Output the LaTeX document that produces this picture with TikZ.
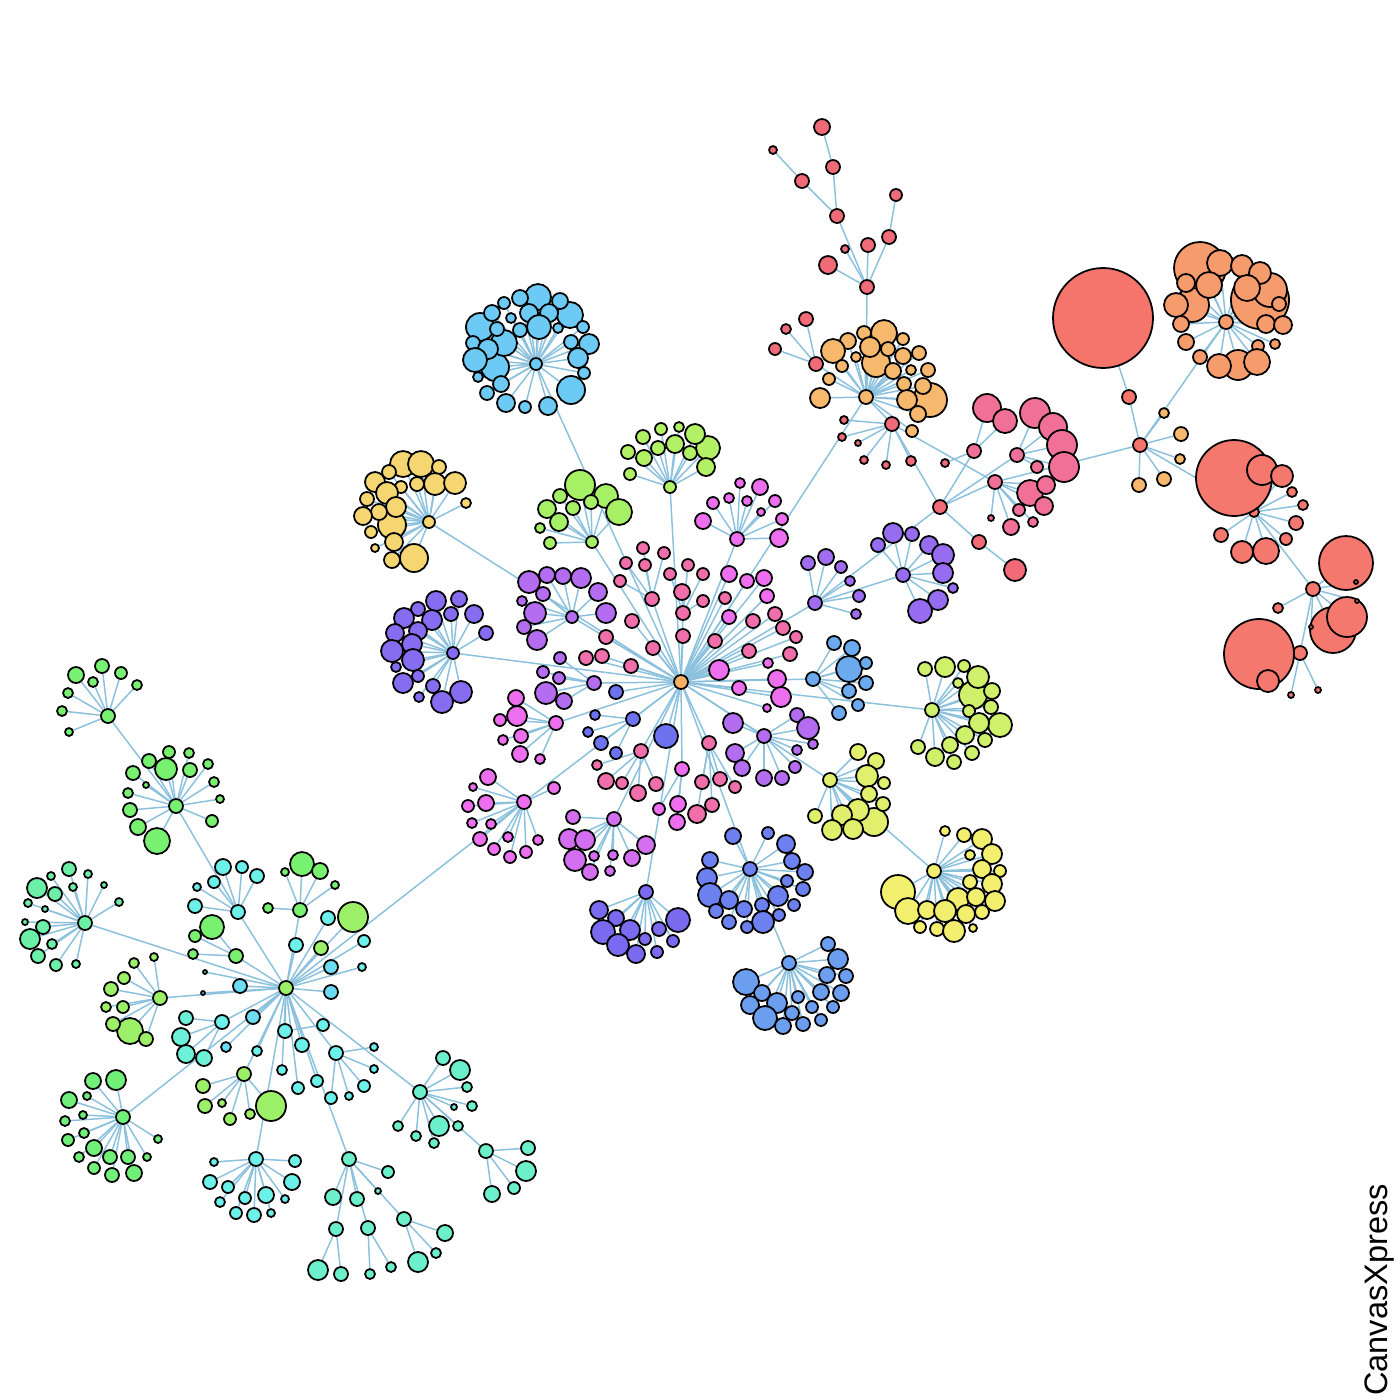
\documentclass[tikz,border=0pt]{standalone}
\usepackage{fontspec}
\setsansfont{Liberation Sans}
\usetikzlibrary{backgrounds}

\definecolor{wire}{HTML}{8CC1DE}
\definecolor{centre}{HTML}{F5B066}
\definecolor{sky}{HTML}{6CCAF4}
\definecolor{gold}{HTML}{F5D670}
\definecolor{limea}{HTML}{B2F066}
\definecolor{limeb}{HTML}{A6F066}
\definecolor{purpa}{HTML}{B46CF0}
\definecolor{purpm}{HTML}{D46EF0}
\definecolor{violeta}{HTML}{866CF0}
\definecolor{viob}{HTML}{7A6AF0}
\definecolor{mag}{HTML}{EE6EF0}
\definecolor{pinka}{HTML}{F06EAA}
\definecolor{pinkr}{HTML}{F07098}
\definecolor{bluev}{HTML}{6C72F0}
\definecolor{bluem}{HTML}{6C80F0}
\definecolor{bluen}{HTML}{6C9EF0}
\definecolor{bluer}{HTML}{6CAAF0}
\definecolor{purpr}{HTML}{A06CF0}
\definecolor{purps}{HTML}{966CF0}
\definecolor{yga}{HTML}{CFF06A}
\definecolor{ygb}{HTML}{E1F06C}
\definecolor{yell}{HTML}{F2EF6E}
\definecolor{orng}{HTML}{F5B86C}
\definecolor{redc}{HTML}{F06A78}
\definecolor{redr}{HTML}{F5746C}
\definecolor{orngr}{HTML}{F59B6C}
\definecolor{salm}{HTML}{F5786E}
\definecolor{grn}{HTML}{78F070}
\definecolor{grnb}{HTML}{70F078}
\definecolor{mint}{HTML}{6CF0A8}
\definecolor{cyan}{HTML}{6CF0EA}
\definecolor{cyanb}{HTML}{6CDCF2}
\definecolor{teal}{HTML}{6CF0CC}
\definecolor{tealc}{HTML}{6CF0D8}
\definecolor{lime}{HTML}{9CF068}

\tikzset{
  nd/.style={
    circle,
    draw=black,
    line width=1pt,
    inner sep=0pt,
    minimum size=#1*0.4mm,
  },
  link/.style={draw=wire, line width=0.85pt},
}

% one hub with a ring of leaves: hub name, leaf prefix, colour, x/y/r list
\newcommand{\hubring}[4]{%
  \foreach \kx/\ky/\kr [count=\kn] in {#4}
    \node[nd=\kr, fill=#3] (#2-\kn) at (\kx,\ky) {};
  \begin{pgfonlayer}{background}
    \foreach \kx/\ky/\kr [count=\kn] in {#4}
      \draw[link] (#1) -- (#2-\kn);
  \end{pgfonlayer}%
}

\begin{document}
\begin{tikzpicture}[x=0.2mm,y=-0.2mm]

    \useasboundingbox (0,0) rectangle (1400,1400);

	% centre and its hubs
	\node[nd=7,fill=centre] (hub) at (681,682) {};
	\node[nd=6,fill=sky] (sky) at (536,364) {};
	\node[nd=6,fill=gold] (gold) at (429,522) {};
	\node[nd=6,fill=limea] (limea) at (670,487) {};
	\node[nd=6,fill=limeb] (limeb) at (592,542) {};
	\node[nd=6,fill=purpa] (purpa) at (572,617) {};
	\node[nd=6,fill=violeta] (viola) at (453,653) {};
	\node[nd=7,fill=purpa] (purpb) at (594,683) {};
	\node[nd=7,fill=mag] (maga) at (556,723) {};
	\node[nd=7,fill=bluev] (blues) at (633,719) {};
	\node[nd=7,fill=pinka] (pinka) at (641,751) {};
	\node[nd=7,fill=mag] (pinkl) at (524,802) {};
	\node[nd=7,fill=purpm] (purpm) at (614,819) {};
	\node[nd=7,fill=mag] (magb) at (682,769) {};
	\node[nd=7,fill=pinka] (pinkb) at (709,743) {};
	\node[nd=7,fill=purpa] (purpc) at (764,736) {};
	\node[nd=7,fill=viob] (bviol) at (646,892) {};
	\node[nd=7,fill=bluem] (bluem) at (750,869) {};
	\node[nd=7,fill=bluen] (bluen) at (789,963) {};
	\node[nd=7,fill=ygb] (ygb) at (830,780) {};
	\node[nd=7,fill=yell] (yell) at (934,871) {};
	\node[nd=7,fill=yga] (yga) at (932,710) {};
	\node[nd=7,fill=bluer] (bluer) at (813,679) {};
	\node[nd=7,fill=purpr] (purpr) at (815,603) {};
	\node[nd=7,fill=purps] (purps) at (903,575) {};
	\node[nd=7,fill=mag] (magt) at (737,539) {};
	\node[nd=7,fill=pinka] (pinkt) at (652,599) {};
	\node[nd=7,fill=pinka] (pinku) at (683,613) {};
	\node[nd=7,fill=orng] (orng) at (866,397) {};

	\hubring{sky}{sk}{sky}{480/327/14, 495/367/14, 571/390/14, 538/297/13, 570/315/13, 504/343/13, 520/298/8, 560/301/8, 504/303/6, 492/313/8, 529/313/9, 549/313/9, 511/318/5, 539/327/12, 583/327/6, 497/329/7, 520/330/7, 558/328/5, 473/343/7, 571/342/7, 589/344/10, 488/349/10, 475/360/12, 578/358/10, 584/373/6, 478/377/5, 501/384/8, 487/393/7, 506/403/9, 525/407/6, 548/406/9}
	\hubring{gold}{go}{gold}{392/525/14, 414/558/14, 403/464/13, 421/464/13, 439/467/7, 389/472/7, 375/482/10, 401/487/6, 417/484/7, 435/484/11, 455/483/11, 466/503/5, 387/493/11, 367/499/7, 396/507/10, 379/512/8, 363/516/9, 371/532/6, 394/542/9, 375/548/4, 392/560/8}
	\hubring{limea}{la}{limea}{708/448/12, 643/437/7, 661/429/6, 679/427/5, 695/434/10, 675/444/9, 658/448/7, 690/453/7, 628/452/7, 644/458/8, 706/467/9, 630/474/6}
	\hubring{limeb}{lb}{limeb}{580/485/15, 606/496/12, 619/512/13, 591/502/7, 560/496/7, 573/508/7, 547/509/9, 559/522/9, 540/528/5, 550/543/6}
	\hubring{purpa}{pa}{purpa}{529/582/11, 547/575/8, 563/576/8, 581/578/10, 598/592/9, 543/594/7, 522/601/5, 535/613/11, 606/613/10, 524/627/7, 537/640/10}
	\hubring{viola}{vi}{violeta}{436/601/10, 459/599/8, 418/609/7, 404/618/10, 432/620/10, 451/614/7, 474/614/9, 395/633/9, 418/631/9, 486/633/7, 412/644/10, 392/651/11, 413/660/11, 396/667/5, 418/676/6, 403/683/10, 433/686/7, 461/692/11, 419/697/5, 442/702/11}
	\hubring{purpb}{pb}{purpa}{560/658/6, 543/672/6, 559/678/6, 546/693/11, 564/701/8}
	\hubring{maga}{ma}{mag}{516/698/8, 517/716/10, 500/720/6, 521/736/7, 503/740/5, 520/754/8, 540/759/5}
	\hubring{blues}{bs}{bluev}{595/715/5, 588/732/5, 601/743/7, 616/753/6}
	\hubring{pinka}{pk}{pinka}{597/765/5, 606/781/8, 622/783/6, 638/793/8, 656/784/7}
	\hubring{pinkl}{pl}{mag}{488/777/8, 473/787/4, 486/803/8, 468/806/6, 491/824/5, 472/823/5, 480/839/7, 508/837/5, 494/849/6, 510/857/6, 526/852/6, 538/840/5, 554/788/6}
	\hubring{purpm}{pm}{purpm}{573/817/7, 569/839/10, 585/840/10, 575/860/11, 594/856/5, 613/855/5, 590/872/8, 610/871/5, 632/858/8, 646/845/9}
	\hubring{magb}{mb}{mag}{659/809/6, 678/804/8, 677/822/8}
	\hubring{pinkb}{pn}{pinka}{697/814/9, 702/782/7, 720/779/7, 735/787/6, 712/805/7}
	\hubring{purpc}{pc}{purpa}{733/723/10, 797/715/7, 808/728/11, 813/744/5, 797/750/5, 795/767/6, 782/778/7, 764/778/8, 735/753/9, 742/768/8}
	\hubring{magt}{mt}{mag}{703/521/8, 779/538/9, 782/519/6, 761/512/4, 713/503/6, 729/498/5, 740/483/5, 747/501/5, 760/487/8, 775/501/6}
	\hubring{pinkt}{pt}{pinka}{620/581/6, 626/563/6, 645/565/6, 643/548/6, 664/553/6}
	\hubring{pinku}{pu}{pinka}{682/592/8, 670/574/6, 688/565/6, 703/574/6, 703/601/6}
	\hubring{hub}{hp}{pinka}{632/621/7, 683/636/7, 606/637/7, 653/648/7, 586/658/7, 602/656/7, 631/666/7, 725/598/6, 753/621/7, 775/614/7, 783/628/7, 796/637/6, 715/641/7, 749/651/7, 790/654/7}
	\hubring{hub}{hm}{mag}{729/574/8, 747/581/7, 764/578/8, 767/596/7, 729/617/7, 768/663/5, 719/670/10, 777/679/9, 739/688/7, 781/697/10, 767/708/4}
	\hubring{hub}{hb}{bluev}{616/692/7, 666/736/12}
	\hubring{bluer}{br}{bluer}{849/669/13, 834/643/7, 852/648/8, 866/663/6, 866/683/7, 849/691/7, 858/705/6, 839/713/7}
	\hubring{yga}{ya}{yga}{973/695/14, 1000/725/12, 925/669/7, 945/667/10, 964/666/6, 978/677/11, 958/683/5, 992/691/8, 991/707/7, 969/711/6, 979/723/10, 965/735/9, 985/740/7, 950/745/8, 972/753/7, 954/762/7, 935/757/9, 918/747/7}
	\hubring{ygb}{yb}{ygb}{874/822/14, 858/752/8, 876/761/8, 867/776/11, 884/783/6, 869/794/8, 883/804/7, 858/810/11, 842/815/10, 815/816/7, 832/830/10, 853/829/10}
	\hubring{yell}{ye}{yell}{898/892/17, 945/831/5, 964/835/7, 982/839/10, 970/855/5, 992/854/10, 1000/871/6, 982/869/9, 970/882/7, 992/884/10, 958/899/11, 976/897/9, 995/901/10, 908/911/13, 927/910/9, 945/911/11, 966/914/9, 982/912/7, 920/927/6, 937/929/7, 954/931/11, 973/928/4}
	\hubring{bviol}{bv}{viob}{599/910/9, 616/918/8, 603/932/12, 630/930/10, 678/920/12, 659/929/7, 618/945/11, 645/939/6, 673/941/6, 636/954/9, 657/952/6}
	\hubring{bluem}{bm}{bluem}{733/836/8, 768/833/6, 786/844/9, 710/860/8, 792/861/8, 805/872/8, 707/878/10, 787/881/6, 803/889/7, 710/895/12, 729/900/9, 778/896/10, 744/909/8, 762/905/7, 794/905/6, 716/911/7, 779/915/6, 763/922/11, 729/922/7, 747/927/6}
	\hubring{bluen}{bn}{bluen}{828/944/7, 838/959/10, 827/975/8, 846/976/7, 746/982/13, 821/992/8, 841/993/8, 762/993/8, 798/997/6, 777/1003/10, 750/1005/9, 812/1007/6, 833/1007/6, 792/1013/7, 765/1018/12, 783/1026/8, 803/1024/7, 821/1020/6}
	\hubring{purpr}{pr}{purpr}{808/563/7, 826/557/8, 841/567/6, 850/581/5, 859/596/6, 856/614/5}
	\hubring{purps}{ps}{purps}{878/545/7, 893/533/10, 912/534/7, 929/545/9, 943/555/11, 943/573/10, 953/588/5, 938/600/10, 920/611/12}
	\hubring{orng}{or}{orng}{876/363/14, 930/400/17, 884/333/13, 864/333/7, 848/341/8, 903/339/6, 833/351/12, 870/347/10, 888/349/7, 856/357/5, 903/356/8, 919/353/7, 842/366/6, 911/370/5, 893/371/8, 928/370/7, 829/379/6, 904/384/7, 923/386/8, 907/400/10, 918/414/8, 820/398/10, 912/431/6}

	% red chain on top
	\node[nd=7,fill=redc] (rc0) at (867,287) {};
	\node[nd=7,fill=redc] (rc1) at (837,216) {};
	\node[nd=7,fill=redc] (rc2) at (889,237) {};
	\node[nd=7,fill=redc] (rc3) at (833,167) {};
	\node[nd=7,fill=redc] (rc4) at (802,181) {};
	\node[nd=8,fill=redc] (rc5) at (822,127) {};
	\node[nd=4,fill=redc] (rc6) at (773,150) {};
	\node[nd=6,fill=redc] (rc7) at (896,195) {};
	\hubring{rc0}{rl}{redc}{868/245/7, 845/249/4, 828/265/9}
	\node[nd=7,fill=redc] (redo) at (816,364) {};
	\hubring{redo}{ro}{redc}{775/349/6, 786/329/5, 806/319/7}
	\node[nd=7,fill=redc] (reds) at (892,424) {};
	\hubring{reds}{rs}{redc}{844/420/4, 842/437/4, 858/443/3, 864/460/4, 886/465/4, 911/461/5}
	\node[nd=7,fill=redc] (redh) at (940,507) {};
	\node[nd=7,fill=redc] (redk) at (979,542) {};
	\hubring{redk}{rh}{redc}{1015/570/11}

	% pink group
	\node[nd=7,fill=pinkr] (pinkc) at (974,451) {};
	\node[nd=7,fill=pinkr] (pinkd) at (1017,455) {};
	\node[nd=7,fill=pinkr] (pinke) at (995,482) {};
	\hubring{pinkc}{qc}{pinkr}{987/408/14, 1005/421/12}
	\hubring{pinkc}{qr}{redc}{945/463/4}
	\hubring{pinkd}{qd}{pinkr}{1035/413/15, 1053/427/14, 1062/445/15, 1064/467/15, 1037/467/6}
	\hubring{pinke}{qe}{pinkr}{1030/493/13, 1046/485/9, 1044/506/9, 1011/527/8, 1019/510/6, 1033/522/5, 991/518/3}

	% right side
	\node[nd=7,fill=redr] (rightred) at (1140,445) {};
	\node[nd=7,fill=redr] (rr1) at (1129,397) {};
	\node[nd=50,fill=redr] (bigred) at (1103,318) {};
	\hubring{rightred}{rt}{orng}{1164/413/5, 1181/434/7, 1180/459/5, 1164/479/7, 1139/485/7}
	\node[nd=7,fill=orngr] (orngr) at (1226,322) {};
	\hubring{orngr}{og}{orngr}{1260/300/29, 1200/268/26, 1192/305/17, 1270/290/17, 1220/263/13, 1242/266/11, 1260/273/11, 1186/283/9, 1209/285/13, 1247/288/13, 1176/305/12, 1279/304/7, 1181/324/8, 1266/324/9, 1283/325/9, 1186/342/8, 1258/346/6, 1275/344/5, 1200/357/7, 1238/365/15, 1219/366/12, 1257/362/13}
	\node[nd=5,fill=salm] (redt) at (1254,512) {};
	\hubring{redt}{tt}{salm}{1234/478/38, 1262/470/15, 1282/476/11, 1292/492/5, 1303/505/5, 1296/523/7, 1286/539/6, 1266/551/13, 1242/552/11, 1221/535/7}
	\node[nd=7,fill=salm] (redu) at (1313,589) {};
	\hubring{redu}{tu}{salm}{1346/563/27, 1333/630/23, 1347/617/20, 1278/608/5, 1356/582/2, 1357/601/2, 1311/627/2}
	\node[nd=7,fill=salm] (redv) at (1300,653) {};
	\hubring{redv}{tv}{salm}{1259/654/35, 1268/681/11, 1291/695/3, 1318/690/3}

	% left side
	\node[nd=7,fill=lime] (lefthub) at (286,988) {};
	\node[nd=7,fill=mint] (mint) at (85,923) {};
	\node[nd=7,fill=cyan] (cyanu) at (238,912) {};
	\node[nd=7,fill=grn] (grnb) at (176,806) {};
	\node[nd=7,fill=grn] (grna) at (108,716) {};
	\node[nd=7,fill=grn] (grns) at (236,956) {};
	\node[nd=7,fill=grn] (grnu) at (300,910) {};
	\node[nd=7,fill=cyan] (cyanh) at (222,1022) {};
	\node[nd=7,fill=cyan] (cyani) at (285,1031) {};
	\node[nd=7,fill=cyan] (cyanj) at (336,1053) {};
	\node[nd=7,fill=lime] (limeh) at (244,1074) {};
	\node[nd=7,fill=cyan] (cyanl) at (256,1159) {};
	\node[nd=7,fill=teal] (tealb) at (349,1159) {};
	\node[nd=7,fill=teal] (teal1) at (336,1229) {};
	\node[nd=7,fill=teal] (teal2) at (368,1228) {};
	\node[nd=7,fill=teal] (teal3) at (404,1219) {};
	\node[nd=7,fill=teal] (tealr) at (420,1092) {};
	\node[nd=7,fill=teal] (teals) at (486,1151) {};
	\node[nd=7,fill=grnb] (grnl) at (123,1117) {};
	\node[nd=7,fill=lime] (limel) at (160,998) {};

	\hubring{lefthub}{lg}{lime}{353/917/15, 321/948/7}
	\hubring{lefthub}{lc}{cyan}{328/918/7, 364/941/6, 296/945/7, 362/967/4, 257/1051/5, 302/1045/7, 282/1070/5, 298/1088/6, 317/1081/6}
	\hubring{lefthub}{lk}{cyanb}{331/967/7, 240/986/7, 331/992/7, 253/1017/7, 226/1047/5, 205/972/2, 203/993/2}
	\hubring{mint}{mn}{mint}{69/869/7, 51/876/4, 88/874/4, 37/888/10, 55/894/7, 73/887/4, 104/885/3, 119/902/4, 28/903/4, 45/909/3, 25/922/3, 43/927/7, 30/939/10, 52/944/5, 38/956/7, 56/965/6, 76/964/4}
	\hubring{cyanu}{cu}{cyan}{223/867/8, 242/867/6, 257/876/7, 214/882/6, 197/887/4, 195/906/7}
	\hubring{grnb}{gb}{grn}{157/841/13, 166/769/11, 149/761/7, 169/752/6, 189/753/5, 190/770/7, 208/764/5, 133/773/7, 214/782/5, 146/785/3, 128/793/5, 220/799/4, 130/810/7, 212/821/6, 138/827/8}
	\hubring{grna}{ga}{grn}{76/675/8, 102/666/7, 121/673/6, 93/682/5, 137/685/5, 68/693/5, 62/711/5, 69/732/4}
	\hubring{grns}{gs}{grn}{212/927/12, 195/936/6, 193/954/5}
	\hubring{grnu}{gu}{grn}{302/864/12, 320/871/8, 285/872/4, 335/885/4, 268/908/5}
	\hubring{cyanh}{ch}{tealc}{186/1018/7, 181/1037/9, 186/1054/9, 204/1058/8}
	\hubring{cyani}{ci}{cyan}{323/1025/6}
	\hubring{cyanj}{cj}{cyan}{374/1047/4, 374/1069/4, 364/1086/6, 349/1096/4, 331/1098/6}
	\hubring{limeh}{lh}{lime}{271/1106/15, 203/1086/7, 205/1106/7, 222/1103/4, 230/1119/6, 250/1114/5}
	\hubring{cyanl}{cl}{cyan}{214/1162/4, 295/1161/6, 210/1182/7, 228/1187/6, 292/1182/8, 245/1198/6, 266/1195/8, 220/1202/5, 285/1199/4, 236/1213/6, 254/1215/7, 271/1213/4}
	\hubring{tealb}{tb}{teal}{388/1172/6, 333/1197/8, 357/1199/7, 378/1191/3}
	\hubring{teal1}{ta}{teal}{318/1270/10, 341/1274/7}
	\hubring{teal2}{tc}{teal}{370/1274/5, 391/1267/5}
	\hubring{teal3}{td}{teal}{445/1233/8, 436/1253/5, 418/1262/10}
	\hubring{tealr}{te}{teal}{443/1058/7, 460/1070/10, 467/1087/5, 472/1106/5, 454/1107/3, 439/1126/10, 458/1126/5, 398/1126/5, 416/1136/5, 434/1143/5}
	\hubring{teals}{tf}{teal}{528/1148/7, 526/1171/10, 514/1188/6, 492/1194/8}
	\hubring{grnl}{gl}{grnb}{116/1080/10, 93/1081/8, 69/1100/8, 87/1096/4, 83/1115/4, 65/1121/5, 84/1133/5, 68/1140/6, 94/1148/8, 79/1157/5, 110/1157/7, 128/1157/7, 94/1168/6, 112/1175/7, 134/1173/8, 147/1157/4, 158/1139/4}
	\hubring{limel}{ll}{lime}{130/1031/13, 134/963/5, 154/957/4, 124/978/6, 111/989/7, 123/1007/6, 106/1007/5, 113/1024/7, 146/1039/7}

	% hub to hub links
	\begin{pgfonlayer}{background}
	  \foreach \a in {sky,gold,limea,limeb,purpa,viola,purpb,maga,blues,pinka,pinkl,purpm,magb,pinkb,purpc,bviol,bluem,ygb,yga,bluer,purpr,magt,pinkt,pinku,orng}
	    \draw[link] (hub) -- (\a);
	  \foreach \a/\b in {bluem/bluen, ygb/yell, purpr/purps, purpr/redh, orng/rc0, orng/redo, orng/reds, reds/redh, reds/pinke, redh/redk, redh/pinkc, redh/pinkd, redh/pinke, rc0/rc1, rc0/rc2, rc1/rc3, rc1/rc4, rc3/rc5, rc4/rc6, rc2/rc7, pinke/rightred, rightred/rr1, rr1/bigred, rightred/orngr, rightred/redt, redt/redu, redu/redv, pinkl/lefthub, cyanu/grnb, grnb/grna, tealb/teal1, tealb/teal2, tealb/teal3, tealr/teals}
	    \draw[link] (\a) -- (\b);
	  \foreach \a in {mint,cyanu,grns,grnu,cyanh,cyani,cyanj,limeh,cyanl,tealb,tealr,grnl,limel}
	    \draw[link] (lefthub) -- (\a);
	\end{pgfonlayer}

	\node[rotate=90, inner sep=0pt, font=\sffamily\fontsize{18.5pt}{21pt}\selectfont] (brand) at (1380,1290) {CanvasXpress};

\end{tikzpicture}
\end{document}
